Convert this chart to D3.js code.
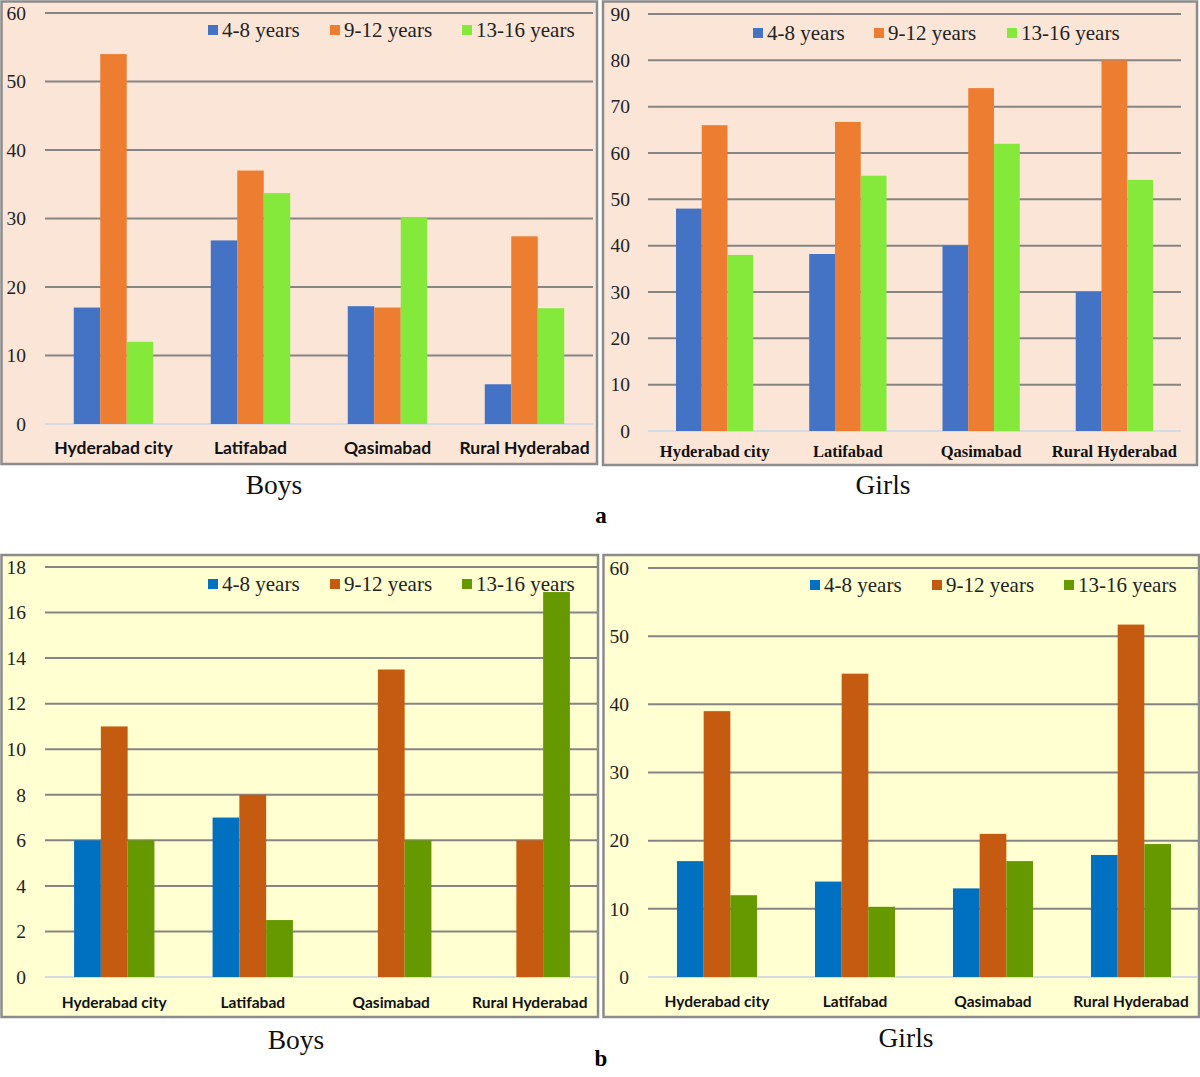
<!DOCTYPE html>
<html>
<head>
<meta charset="utf-8">
<script src="https://cdn.jsdelivr.net/npm/d3@7"></script>
<style>
  body { margin: 0; background: #fff; }
  svg { display: block; }
</style>
</head>
<body>
<div id="chart"></div>
<script>
// categories and series
var regions = ["Hyderabad city", "Latifabad", "Qasimabad", "Rural Hyderabad"];
var ageGroups = ["4-8 years", "9-12 years", "13-16 years"];

// (a) values, per age group, in region order
var boysA_4to8   = [17, 26.8, 17.2, 5.8];
var boysA_9to12  = [54, 37, 17, 27.4];
var boysA_13to16 = [12, 33.7, 30.1, 16.9];

var girlsA_4to8   = [48, 38.2, 40, 30];
var girlsA_9to12  = [66, 66.7, 74, 80];
var girlsA_13to16 = [38, 55.1, 62, 54.2];

// (b) values
var boysB_4to8   = [6, 7, 0, 0];
var boysB_9to12  = [11, 8, 13.5, 6];
var boysB_13to16 = [6, 2.5, 6, 16.9];

var girlsB_4to8   = [17, 14, 13, 17.9];
var girlsB_9to12  = [39, 44.5, 21, 51.7];
var girlsB_13to16 = [12, 10.3, 17, 19.5];

// axis tick values
var ticksA_boys  = [0, 10, 20, 30, 40, 50, 60];
var ticksA_girls = [0, 10, 20, 30, 40, 50, 60, 70, 80, 90];
var ticksB_boys  = [0, 2, 4, 6, 8, 10, 12, 14, 16, 18];
var ticksB_girls = [0, 10, 20, 30, 40, 50, 60];

var colorsA = ["#4472c4", "#ed7d31", "#84e93a"];
var colorsB = ["#0070c0", "#c55a11", "#669900"];

var serif = "'Liberation Serif', 'Times New Roman', serif";
var sans = "Lato, 'Open Sans', sans-serif";

var svg = d3.select("#chart")
  .append("svg")
    .attr("width", 1200)
    .attr("height", 1077);

function drawPanel(p) {
  var g = svg.append("g");

  // frame
  g.append("rect")
    .attr("x", p.box[0]).attr("y", p.box[1])
    .attr("width", p.box[2] - p.box[0]).attr("height", p.box[3] - p.box[1])
    .attr("fill", p.bg)
    .attr("stroke", "#8c8c8c")
    .attr("stroke-width", 2.5);

  var x = d3.scaleBand()
    .domain(regions)
    .range([p.x0, p.x1])
    .paddingInner(0.42)
    .paddingOuter(0.21);

  var xs = d3.scaleBand()
    .domain(ageGroups)
    .range([0, x.bandwidth()]);

  var y = d3.scaleLinear()
    .domain([0, d3.max(p.ticks)])
    .range([p.yBot, p.yTop]);

  // gridlines
  g.append("g")
    .selectAll("line")
    .data(p.ticks.filter(function (t) { return t > 0; }))
    .enter()
    .append("line")
      .attr("x1", p.x0).attr("x2", p.gridEnd)
      .attr("y1", function (d) { return y(d); })
      .attr("y2", function (d) { return y(d); })
      .attr("stroke", "#858585")
      .attr("stroke-width", 2);

  g.append("line")
    .attr("x1", p.x0).attr("x2", p.gridEnd)
    .attr("y1", y(0)).attr("y2", y(0))
    .attr("stroke", "#d5dbe5")
    .attr("stroke-width", 2);

  // y tick labels
  var yAxis = d3.axisLeft(y).tickValues(p.ticks).tickSize(0).tickPadding(0);
  var ya = g.append("g")
    .attr("transform", "translate(" + p.tickRight + ",0)")
    .call(yAxis)
    .attr("font-family", null)
    .attr("font-size", null);
  ya.select(".domain").remove();
  ya.selectAll("text")
    .style("font-family", serif)
    .style("font-size", "19.5px")
    .attr("fill", "#222");

  // bars
  var rows = regions.map(function (r, i) {
    return { region: r, values: p.series.map(function (s) { return s[i]; }) };
  });
  g.append("g")
    .selectAll("g")
    .data(rows)
    .enter()
    .append("g")
      .attr("transform", function (d) { return "translate(" + x(d.region) + ",0)"; })
    .selectAll("rect")
    .data(function (d) { return d.values.map(function (v, j) { return { key: ageGroups[j], v: v, c: p.colors[j] }; }); })
    .enter()
    .append("rect")
      .attr("x", function (d) { return xs(d.key); })
      .attr("width", xs.bandwidth())
      .attr("y", function (d) { return y(d.v); })
      .attr("height", function (d) { return y(0) - y(d.v); })
      .attr("fill", function (d) { return d.c; });

  // category labels
  g.append("g")
    .selectAll("text")
    .data(regions)
    .enter()
    .append("text")
      .attr("x", function (d) { return x(d) + x.bandwidth() / 2; })
      .attr("y", p.catY)
      .attr("text-anchor", "middle")
      .style("font-family", p.catFont)
      .style("font-weight", "bold")
      .style("font-size", p.catSize + "px")
      .attr("fill", "#111")
      .text(function (d) { return d; });

  // legend (drawn over bars)
  var lg = g.append("g")
    .selectAll("g")
    .data(ageGroups)
    .enter()
    .append("g")
      .attr("transform", function (d, i) { return "translate(" + p.legendX[i] + "," + p.legendY + ")"; });
  lg.append("rect")
    .attr("x", 0).attr("y", -5)
    .attr("width", 10).attr("height", 10)
    .attr("fill", function (d, i) { return p.colors[i]; });
  lg.append("text")
    .attr("x", 14).attr("y", 7)
    .style("font-family", serif)
    .style("font-size", "21px")
    .attr("fill", "#222")
    .text(function (d) { return d; });

  // caption
  svg.append("text")
    .attr("x", p.caption[1]).attr("y", p.caption[2])
    .attr("text-anchor", "middle")
    .style("font-family", serif)
    .style("font-size", "27.5px")
    .attr("fill", "#111")
    .text(p.caption[0]);
}

drawPanel({
  box: [1.5, 1.5, 597, 464], bg: "#fbe5d7",
  x0: 45, x1: 593, gridEnd: 593, yTop: 13, yBot: 424, tickRight: 26,
  ticks: ticksA_boys, series: [boysA_4to8, boysA_9to12, boysA_13to16], colors: colorsA,
  catY: 454, catFont: sans, catSize: 17.5,
  legendX: [208, 330, 462], legendY: 30,
  caption: ["Boys", 274, 494]
});

drawPanel({
  box: [603, 1.5, 1197, 465], bg: "#fbe5d7",
  x0: 648, x1: 1181, gridEnd: 1181, yTop: 14, yBot: 431, tickRight: 630,
  ticks: ticksA_girls, series: [girlsA_4to8, girlsA_9to12, girlsA_13to16], colors: colorsA,
  catY: 457, catFont: serif, catSize: 16.5,
  legendX: [753, 874, 1007], legendY: 33,
  caption: ["Girls", 883, 494]
});

drawPanel({
  box: [1.5, 555, 598, 1017], bg: "#ffffd1",
  x0: 45, x1: 599, gridEnd: 597, yTop: 567, yBot: 977, tickRight: 26,
  ticks: ticksB_boys, series: [boysB_4to8, boysB_9to12, boysB_13to16], colors: colorsB,
  catY: 1008, catFont: sans, catSize: 15.5,
  legendX: [208, 330, 462], legendY: 584,
  caption: ["Boys", 296, 1049]
});

drawPanel({
  box: [603.5, 555, 1199, 1017], bg: "#ffffd1",
  x0: 648, x1: 1200, gridEnd: 1198, yTop: 568, yBot: 977, tickRight: 629,
  ticks: ticksB_girls, series: [girlsB_4to8, girlsB_9to12, girlsB_13to16], colors: colorsB,
  catY: 1007, catFont: sans, catSize: 15.5,
  legendX: [810, 932, 1064], legendY: 585,
  caption: ["Girls", 906, 1047]
});

// panel letters
svg.append("text")
  .attr("x", 601).attr("y", 523)
  .attr("text-anchor", "middle")
  .style("font-family", serif).style("font-weight", "bold").style("font-size", "23px")
  .text("a");
svg.append("text")
  .attr("x", 601).attr("y", 1066)
  .attr("text-anchor", "middle")
  .style("font-family", serif).style("font-weight", "bold").style("font-size", "23px")
  .text("b");
</script>
</body>
</html>
